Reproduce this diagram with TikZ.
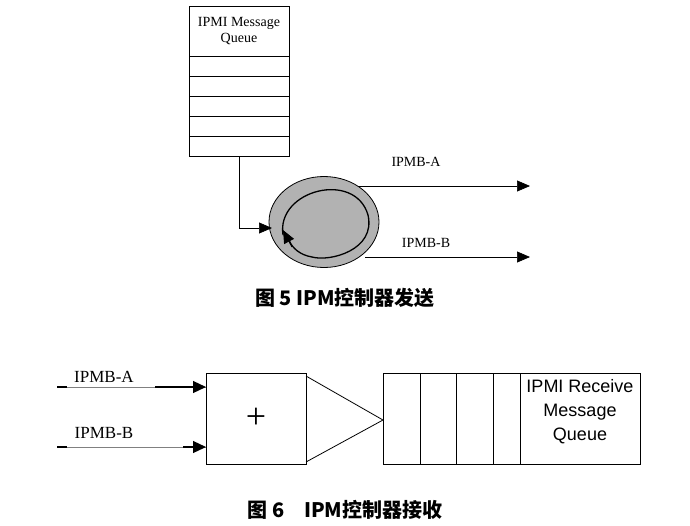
\documentclass[tikz,border=0pt]{standalone}
\usepackage{fontspec}
\setmainfont{Liberation Serif}
\newfontfamily\lsans{Liberation Sans}
\newfontfamily\cjk{Noto Sans CJK SC}[BoldFont=* Black]
\usetikzlibrary{arrows.meta,shapes.geometric}
\begin{document}
\begin{tikzpicture}[x=1pt,y=-1pt,
  box/.style={draw,line width=0.8pt},
  arr/.style={line width=0.7pt,-{Triangle[length=13pt,width=11pt]}},
  lbl/.style={font=\fontsize{14}{15}\selectfont},
  figcap/.style={font=\cjk\bfseries\fontsize{20}{22}\selectfont}]
\useasboundingbox (0,0) rectangle (690,525);
% Figure 5
\node[box,minimum width=100pt,minimum height=50pt,inner sep=0pt,align=center,font=\fontsize{14}{16}\selectfont] (hdr) at (239,31) {IPMI Message\\Queue};
\foreach \i in {0,...,4}{\node[box,minimum width=100pt,minimum height=20pt,inner sep=0pt] (r\i) at (239,66+20*\i) {};}
\node[draw,fill=gray!60,ellipse,minimum width=110pt,minimum height=91pt,line width=0.8pt] (ell) at (324,222) {};
\coordinate (q) at (239,156);
\coordinate (tin) at (272,228);
\draw[arr] (q) |- (tin);
\draw[line width=1.3pt] (283,235) .. controls (276,190) and (355,170) .. (368,215) .. controls (376,250) and (330,262) .. (312,257) .. controls (300,255) and (292,248) .. (289,240);
\draw[line width=1pt,-{Triangle[length=13pt,width=11pt]}] (292,247) -- (283,230);
\coordinate (a1) at (358,186); \coordinate (a2) at (530,186);
\coordinate (b1) at (365,257); \coordinate (b2) at (530,257);
\draw[arr] (a1) -- (a2);
\draw[arr] (b1) -- (b2);
\node[lbl] (la) at (416,162) {IPMB-A};
\node[lbl] (lb) at (426,243) {IPMB-B};
\node[figcap] (c5) at (345,298) {图 5 IPM控制器发送};
% Figure 6
\node[box,minimum width=100pt,minimum height=91pt,inner sep=0pt,font=\fontsize{36}{36}\selectfont] (sum) at (256,418.5) {+};
\coordinate (ta) at (306,376); \coordinate (tb) at (383,420); \coordinate (tc) at (306,462);
\draw[line width=0.8pt] (ta) -- (tb) -- (tc);
\draw[box] (383,373) rectangle (640,464);
\foreach \x in {420,456,493,520}{\draw[line width=0.8pt] (\x,373) -- (\x,464);}
\node[align=center,font=\lsans\fontsize{18}{24}\selectfont] (rq) at (580,412) {IPMI Receive\\Message\\Queue};
\coordinate (ia) at (57,387); \coordinate (ib) at (57,447);
\coordinate (ja) at (206,387); \coordinate (jb) at (206,447);
\draw[line width=0.7pt,gray] (ia) -- (ja) (ib) -- (jb);
\draw[line width=1.2pt,-{Triangle[length=13pt,width=12pt]}] (155,387) -- (ja);
\draw[line width=1.2pt,-{Triangle[length=13pt,width=12pt]}] (183,447) -- (jb);
\draw[line width=1.2pt] (57,387) -- (67,387) (57,447) -- (67,447);
\node[lbl,font=\fontsize{17}{18}\selectfont] (l6a) at (104,377) {IPMB-A};
\node[lbl,font=\fontsize{17}{18}\selectfont] (l6b) at (104,433) {IPMB-B};
\node[figcap] (c6) at (345,510) {图 6\quad IPM控制器接收};
\end{tikzpicture}
\end{document}
